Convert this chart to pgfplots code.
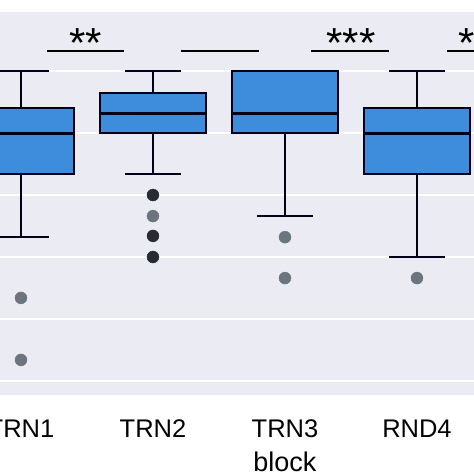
\documentclass[border=0pt]{standalone}
\usepackage{pgfplots}
\pgfplotsset{compat=1.18}
\usepgfplotslibrary{statistics}
\usepackage{fontspec}
\setmainfont{Liberation Sans}
\definecolor{bgcol}{RGB}{235,235,244}
\definecolor{boxblue}{RGB}{62,141,221}
\definecolor{outgrey}{RGB}{108,117,125}
\definecolor{outdark}{RGB}{40,44,50}
\begin{document}
\begin{tikzpicture}
\useasboundingbox (0pt,0pt) rectangle (474pt,474pt);
\clip (0pt,0pt) rectangle (474pt,474pt);
\begin{axis}[
    at={(0pt,79pt)}, anchor=south west,
    scale only axis, width=474pt, height=383pt,
    xmin=-0.159, xmax=3.432,
    ymin=-0.226, ymax=5.952,
    clip=false,
    axis background/.style={fill=bgcol},
    axis line style={draw=none},
    tick style={draw=none},
    ytick={0,1,2,3,4,5}, yticklabels={},
    ymajorgrids, major grid style={white, line width=2pt},
    xtick={0,1,2,3}, xticklabels={TRN1,TRN2,TRN3,RND4},
    x tick label style={font=\fontsize{25.5}{30}\selectfont, anchor=base, yshift=-42pt},
    boxplot/draw direction=y,
    boxplot/box extend=0.8,
    boxplot/whisker extend=0.42,
    boxplot/every median/.style={line width=3pt},
]
\addplot[draw=black!90!blue, fill=boxblue, line width=2.2pt, boxplot prepared={draw position=0,
    lower whisker=2.32, lower quartile=3.34, median=4.0, upper quartile=4.40, upper whisker=5.0}]
    coordinates {};
\addplot[draw=black!90!blue, fill=boxblue, line width=2.2pt, boxplot prepared={draw position=1,
    lower whisker=3.34, lower quartile=4.0, median=4.32, upper quartile=4.65, upper whisker=5.0}]
    coordinates {};
\addplot[draw=black!90!blue, fill=boxblue, line width=2.2pt, boxplot prepared={draw position=2,
    lower whisker=2.66, lower quartile=4.0, median=4.32, upper quartile=5.0, upper whisker=5.0}]
    coordinates {};
\addplot[draw=black!90!blue, fill=boxblue, line width=2.2pt, boxplot prepared={draw position=3,
    lower whisker=2.0, lower quartile=3.34, median=4.0, upper quartile=4.40, upper whisker=5.0}]
    coordinates {};
% outliers
\addplot[only marks, mark=*, mark size=6pt, color=outgrey] coordinates {
    (0,1.34) (0,0.34) (1,2.66) (2,2.32) (2,1.66) (3,1.66)};
\addplot[only marks, mark=*, mark size=6pt, color=outdark] coordinates {
    (1,3.0) (1,2.34) (1,2.0)};
% significance bars
\addplot[black, line width=2pt] coordinates {(0.2,5.323) (0.78,5.323)};
\addplot[black, line width=2pt] coordinates {(1.21,5.323) (1.80,5.323)};
\addplot[black, line width=2pt] coordinates {(2.2,5.323) (2.79,5.323)};
\addplot[black, line width=2pt] coordinates {(3.23,5.323) (3.8,5.323)};
\node[font=\fontsize{42}{42}\selectfont, anchor=base] at (axis cs:0.49,5.225) {**};
\node[font=\fontsize{42}{42}\selectfont, anchor=base] at (axis cs:2.5,5.225) {***};
\node[font=\fontsize{42}{42}\selectfont, anchor=base] at (axis cs:3.5,5.225) {***};
\node[font=\fontsize{27}{30}\selectfont, anchor=base] at (axis cs:2,-1.452) {block};
\end{axis}
\end{tikzpicture}
\end{document}
